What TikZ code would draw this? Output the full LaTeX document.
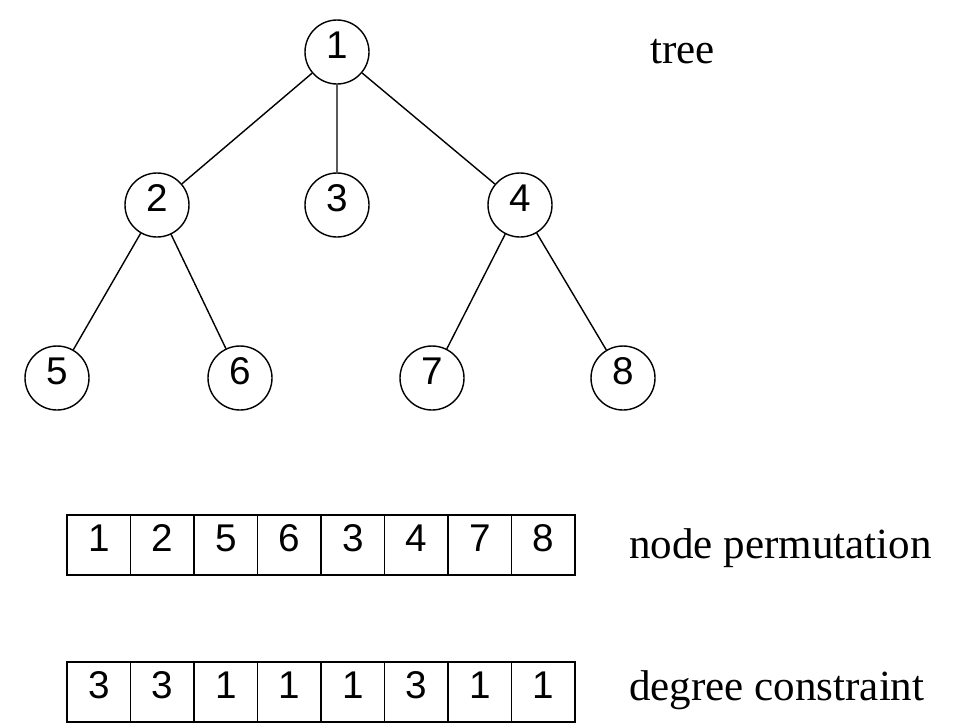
\documentclass[tikz,border=0pt]{standalone}
\usepackage{fontspec}
\setmainfont{Liberation Sans}
\newfontfamily\lblfont{Liberation Serif}
\begin{document}
\begin{tikzpicture}[x=0.02cm,y=-0.02cm,
  tn/.style={circle,draw,line width=0.8pt,minimum size=64*0.02cm,inner sep=0pt,text height=0.72em,text depth=0pt,font=\fontsize{22}{22}\selectfont},
  cell/.style={draw,line width=0.8pt,minimum width=63.5*0.02cm,minimum height=60*0.02cm,inner sep=0pt,text height=0.72em,text depth=0pt,font=\fontsize{22}{22}\selectfont},
  lbl/.style={anchor=west,font=\lblfont\fontsize{24.5}{24.5}\selectfont},
  edge/.style={line width=0.8pt}]
\useasboundingbox (0,0) rectangle (976,724);
\node[tn] (n1) at (337,52) {1};
\node[tn] (n2) at (157,205) {2};
\node[tn] (n3) at (337,205) {3};
\node[tn] (n4) at (520,205) {4};
\node[tn] (n5) at (57,378) {5};
\node[tn] (n6) at (240,378) {6};
\node[tn] (n7) at (432,378) {7};
\node[tn] (n8) at (623,378) {8};
\draw[edge] (n1)--(n2) (n1)--(n3) (n1)--(n4) (n2)--(n5) (n2)--(n6) (n4)--(n7) (n4)--(n8);
\node[lbl] (t) at (644,52) {tree};
\foreach \v [count=\i] in {1,2,5,6,3,4,7,8}
  \node[cell] (a\i) at (67+63.5*\i-31.75,545) {\v};
\foreach \v [count=\i] in {3,3,1,1,1,3,1,1}
  \node[cell] (b\i) at (67+63.5*\i-31.75,692) {\v};
\node[lbl] (l1) at (623,548) {node permutation};
\node[lbl] (l2) at (623,690) {degree constraint};
\end{tikzpicture}
\end{document}
